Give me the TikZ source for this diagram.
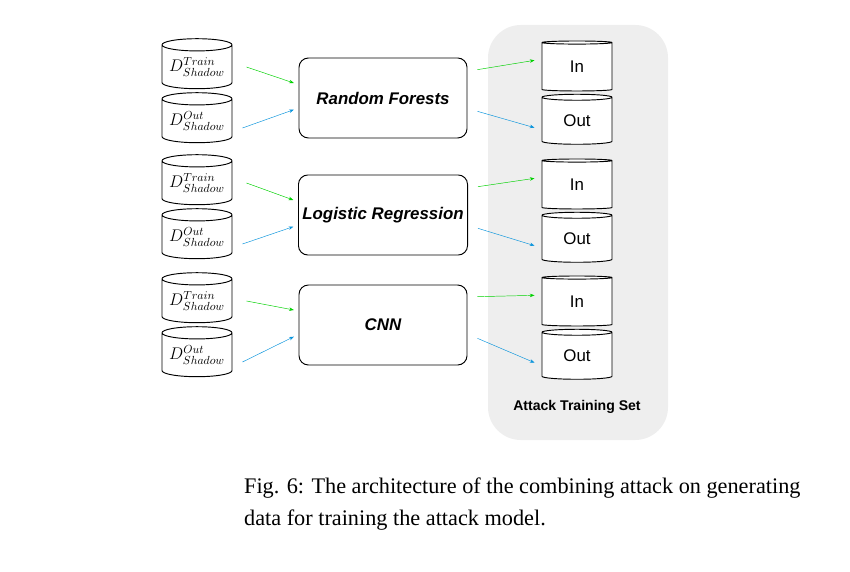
\documentclass[tikz,border=0pt]{standalone}
\usepackage{fontspec}
\setmainfont{Liberation Serif}
\setsansfont{Liberation Sans}
\usetikzlibrary{shapes.geometric,arrows.meta}
\begin{document}
\begin{tikzpicture}[x=0.03cm,y=-0.03cm,
 cyl/.style={draw,thick,cylinder,shape border rotate=90,aspect=0.22,minimum width=70*0.03cm,minimum height=50*0.03cm,inner sep=0pt,fill=white},
 model/.style={draw,thick,rounded corners=8pt,minimum width=168*0.03cm,minimum height=80*0.03cm,font=\sffamily\bfseries\itshape\Large},
 res/.style={cyl,font=\sffamily\Large},
 g/.style={-{Stealth[length=4pt]},green!70!black!60!green,thin},
 b/.style={-{Stealth[length=4pt]},cyan!80!blue,thin}]
\useasboundingbox (0,0) rectangle (850,572);
\fill[gray!13,rounded corners=28pt] (488,25) rectangle (668,440);
\foreach \n/\y/\t in {a/67/Train,b/121/Out,c/183/Train,d/237/Out,e/301/Train,f/355/Out}
  \node[cyl,font=\Large] (\n) at (197,\y) {$D^{\t}_{Shadow}$};
\node[model] (m1) at (383,98) {Random Forests};
\node[model] (m2) at (383,215) {Logistic Regression};
\node[model] (m3) at (383,325) {CNN};
\foreach \n/\y/\t in {i1/67/In,o1/121/Out,i2/185/In,o2/239/Out,i3/302/In,o3/356/Out}
  \node[res] (\n) at (577,\y) {\t};
\node[font=\sffamily\bfseries\large] (ats) at (577,407) {Attack Training Set};
\foreach \l/\m/\r in {a/m1/i1,c/m2/i2,e/m3/i3}{
  \draw[g] (\l.east)++(14,0) -- ([xshift=-4pt,yshift=0.45cm]\m.west);
  \draw[g] ([yshift=0.85cm]\m.east)++(10,0) -- ([xshift=-6pt,yshift=0.2cm]\r.west);}
\foreach \l/\m/\r in {b/m1/o1,d/m2/o2,f/m3/o3}{
  \draw[b] (\l.east)++(10,7) -- ([yshift=-0.35cm,xshift=-4pt]\m.west);
  \draw[b] ([yshift=-0.4cm]\m.east)++(10,0) -- ([xshift=-6pt,yshift=-0.2cm]\r.west);}
\node[anchor=west,font=\fontsize{19}{27.5}\selectfont,align=left] (cap) at (240,504) {Fig. 6: The architecture of the combining attack on generating\\data for training the attack model.};
\end{tikzpicture}
\end{document}
